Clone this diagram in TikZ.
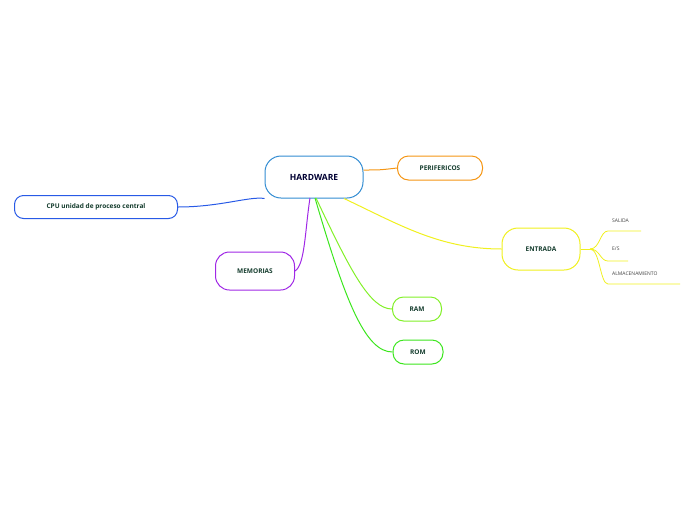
\documentclass[tikz,border=0pt]{standalone}
\usepackage{fontspec}
\setmainfont{Open Sans}
\begin{document}
\begin{tikzpicture}[x=1pt,y=-1pt,
  box/.style={draw,line width=1pt,rounded corners=11pt,fill=white,font=\bfseries\fontsize{6.5}{8}\selectfont,text=txt,align=center},
  leaf/.style={font=\fontsize{5}{6}\selectfont,text=black!75,anchor=west,inner sep=1pt},
  con/.style={line width=1pt}]
\definecolor{txt}{RGB}{20,60,45}
\definecolor{hw}{RGB}{50,140,210}
\definecolor{org}{RGB}{245,150,20}
\definecolor{blu}{RGB}{40,90,230}
\definecolor{yel}{RGB}{240,240,30}
\definecolor{pur}{RGB}{160,40,230}
\definecolor{lg}{RGB}{130,240,40}
\definecolor{gr}{RGB}{60,230,30}
\useasboundingbox (0,0) rectangle (696,520);
% connectors first
\coordinate (hc) at (314,177);
\node[box,draw=hw,minimum width=98pt,minimum height=42pt,rounded corners=16pt,text=black!80!blue,font=\bfseries\fontsize{8.5}{10}\selectfont] (hw) at (314,177) {HARDWARE};
\node[box,draw=org,minimum width=85pt,minimum height=24pt] (per) at (440,168) {PERIFERICOS};
\node[box,draw=blu,minimum width=163pt,minimum height=23pt,rounded corners=9pt] (cpu) at (96,207) {CPU unidad de proceso central};
\node[box,draw=yel,minimum width=78pt,minimum height=42pt,rounded corners=16pt] (ent) at (541,249) {ENTRADA};
\node[box,draw=pur,minimum width=79pt,minimum height=38pt,rounded corners=14pt] (mem) at (255,271) {MEMORIAS};
\node[box,draw=lg,minimum width=49pt,minimum height=24pt] (ram) at (417,309) {RAM};
\node[box,draw=gr,minimum width=50pt,minimum height=24pt] (rom) at (418,352) {ROM};
\begin{scope}[on background layer/.style={}]
\end{scope}
\draw[con,org] (hw.east) ++(0,-7) coordinate (a1) (a1) .. controls (380,170) .. (per.west);
\draw[con,blu] (cpu.east) .. controls (220,207) and (250,196) .. (hw.south west) ++(8,-3);
\draw[con,yel] (hw.south) ++(30,0) coordinate (a2) (a2) .. controls (400,225) and (440,249) .. (ent.west);
\draw[con,pur] (mem.east) .. controls (305,265) and (305,230) .. (310,198);
\draw[con,lg] (316,198) .. controls (350,270) and (370,309) .. (ram.west);
\draw[con,gr] (315,198) .. controls (345,300) and (365,352) .. (rom.west);
% leaves
\node[leaf] (s) at (611,221) {SALIDA};
\node[leaf] (e) at (611,249) {E/S};
\node[leaf] (al) at (611,274) {ALMACENAMIENTO};
\coordinate (sp) at (590,249);
\draw[yel,line width=0.8pt] (ent.east) -- (sp);
\draw[yel,line width=0.8pt] (sp) .. controls (600,249) and (600,231) .. (608,231) -- (641,231);
\draw[yel,line width=0.8pt] (sp) .. controls (600,249) and (600,261) .. (608,261) -- (628,261);
\draw[yel,line width=0.8pt] (sp) .. controls (600,249) and (600,284) .. (608,284) -- (680,284);
\end{tikzpicture}
\end{document}
